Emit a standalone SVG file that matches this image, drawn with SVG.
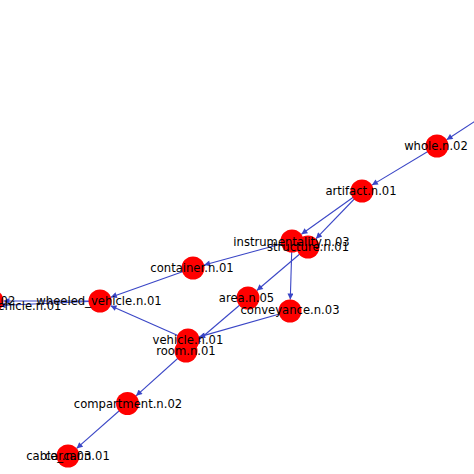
<svg xmlns="http://www.w3.org/2000/svg" width="474" height="474" viewBox="0 0 474 474">
<style>
.e{stroke:#3a46c6;stroke-width:1.1;fill:none;marker-end:url(#ah)}
.n{fill:#ff0000}
.t{font-family:"DejaVu Sans",sans-serif;font-size:11.6px;fill:#000;text-anchor:middle;dominant-baseline:central}
</style>
<defs>
<marker id="ah" viewBox="0 0 10 10" refX="10" refY="5" markerWidth="8" markerHeight="6" markerUnits="userSpaceOnUse" orient="auto">
<path d="M0,0 L10,5 L0,10 z" fill="#3a46c6"/>
</marker>
</defs>
<rect width="474" height="474" fill="#fff"/>
<g id="edges">
<line class="e" x1="480" y1="118" x2="446.6" y2="139.7"/>
<line class="e" x1="437" y1="146" x2="371.9" y2="185.1"/>
<line class="e" x1="362" y1="191" x2="301.4" y2="234.3"/>
<line class="e" x1="362" y1="191" x2="316" y2="238.7"/>
<line class="e" x1="292" y1="241" x2="204.1" y2="265"/>
<line class="e" x1="292" y1="241" x2="290.3" y2="299.5"/>
<line class="e" x1="308" y1="247" x2="256.8" y2="290.5"/>
<line class="e" x1="248" y1="298" x2="194.7" y2="343.5"/>
<line class="e" x1="290" y1="311" x2="199.1" y2="336.9"/>
<line class="e" x1="188" y1="340" x2="110.5" y2="305.7"/>
<line class="e" x1="193" y1="268" x2="110.8" y2="297.2"/>
<line class="e" x1="100" y1="301" x2="3.5" y2="301"/>
<line class="e" x1="100" y1="301" x2="-0.5" y2="305.5"/>
<line class="e" x1="186" y1="351" x2="136.1" y2="395.8"/>
<line class="e" x1="127.5" y1="403.5" x2="76.6" y2="448.4"/>
</g>
<g id="whole"><circle class="n" cx="437" cy="146" r="11.5"/></g>
<g id="artifact"><circle class="n" cx="362" cy="191" r="11.5"/></g>
<g id="instrumentality"><circle class="n" cx="292" cy="241" r="11.5"/></g>
<g id="structure"><circle class="n" cx="308" cy="247" r="11.5"/></g>
<g id="container"><circle class="n" cx="193" cy="268" r="11.5"/></g>
<g id="area"><circle class="n" cx="248" cy="298" r="11.5"/></g>
<g id="conveyance"><circle class="n" cx="290" cy="311" r="11.5"/></g>
<g id="wheeled_vehicle"><circle class="n" cx="100" cy="301" r="11.5"/></g>
<g id="car2"><circle class="n" cx="-8" cy="301" r="11.5"/></g>
<g id="selfprop"><circle class="n" cx="-12" cy="306" r="11.5"/></g>
<g id="vehicle"><circle class="n" cx="188" cy="340" r="11.5"/></g>
<g id="room"><circle class="n" cx="186" cy="351" r="11.5"/></g>
<g id="compartment"><circle class="n" cx="127.5" cy="403.5" r="11.5"/></g>
<g id="cable_car"><circle class="n" cx="68" cy="456" r="11.5"/></g>
<g id="labels">
<text class="t" x="436" y="146">whole.n.02</text>
<text class="t" x="361" y="191">artifact.n.01</text>
<text class="t" x="291.5" y="242">instrumentality.n.03</text>
<text class="t" x="308" y="247">structure.n.01</text>
<text class="t" x="192" y="268">container.n.01</text>
<text class="t" x="246.5" y="298">area.n.05</text>
<text class="t" x="290" y="310">conveyance.n.03</text>
<text class="t" x="99" y="301">wheeled_vehicle.n.01</text>
<text class="t" x="-8" y="301">car.n.02</text>
<text class="t" x="-16" y="306">self-propelled_vehicle.n.01</text>
<text class="t" x="188" y="340">vehicle.n.01</text>
<text class="t" x="186" y="351">room.n.01</text>
<text class="t" x="128" y="403.5">compartment.n.02</text>
<text class="t" x="68" y="456">cable_car.n.01</text>
<text class="t" x="68" y="456">car.n.03</text>
</g>
</svg>
